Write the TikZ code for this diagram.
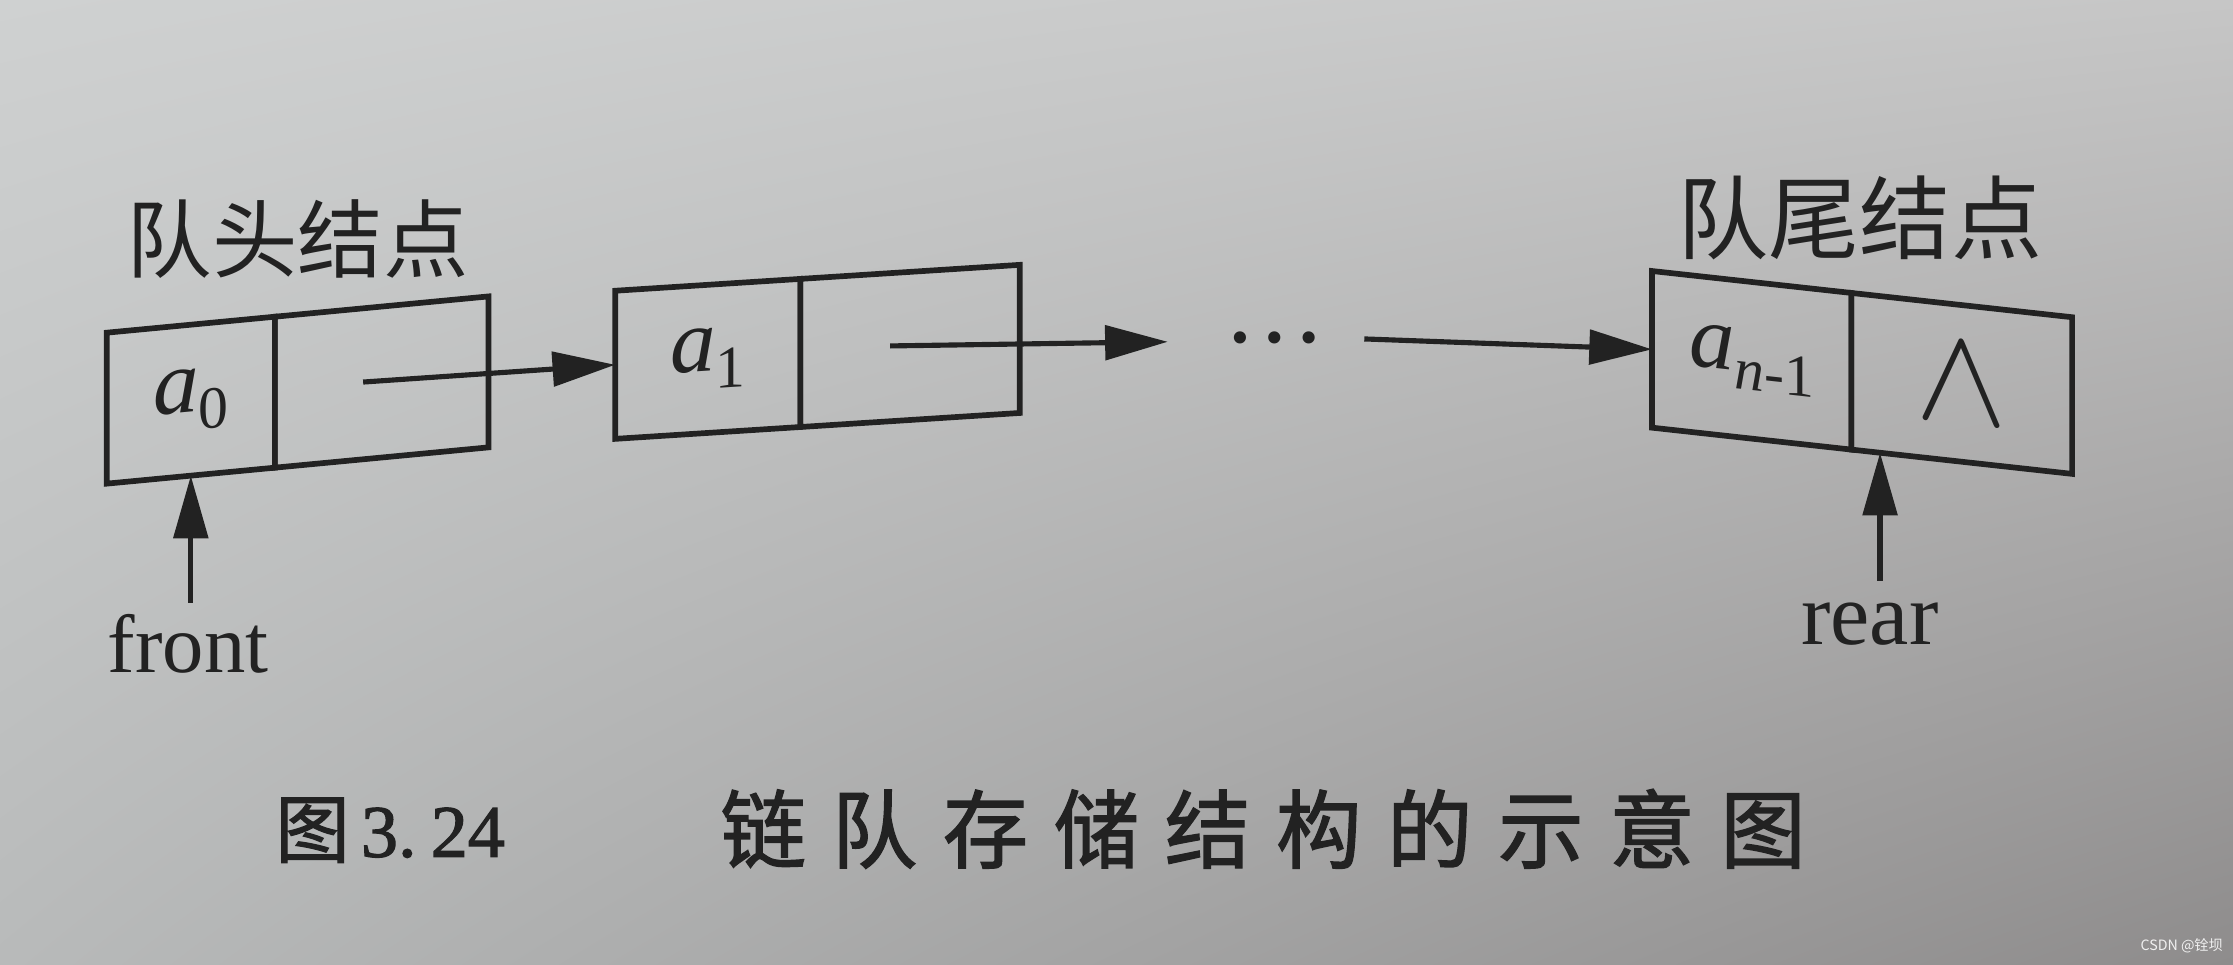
\documentclass[tikz,border=0pt]{standalone}
\usepackage{fontspec}
\setmainfont{Liberation Serif}
\newfontfamily\cjk{Noto Sans CJK SC}
\newfontfamily\cjkcap[FakeBold=1.6]{Noto Sans CJK SC}
\newfontfamily\numcap[FakeBold=1.6]{Liberation Serif}
\usetikzlibrary{arrows.meta,calc,shadings}
\definecolor{ink}{HTML}{222222}
\definecolor{bgul}{HTML}{CFD1D1}
\definecolor{bgur}{HTML}{C6C6C6}
\definecolor{bgll}{HTML}{B8BABA}
\definecolor{bglr}{HTML}{8E8C8C}
\newcommand\mysub[1]{\raisebox{-0.2em}{\fontsize{42}{42}\selectfont #1}}
\begin{document}
\begin{tikzpicture}[x=1pt,y=-1pt,
  cell/.style={draw=ink, line width=4pt, inner sep=0pt, outer sep=0pt, text=ink,
    font=\fontsize{64}{64}\selectfont},
  link/.style={draw=ink, line width=3.6pt, -{Triangle[length=44pt,width=24pt]}},
  lab/.style={text=ink, inner sep=0pt}]
\useasboundingbox (0,0) rectangle (1568,677);
\shade[upper left=bgul, upper right=bgur, lower left=bgll, lower right=bglr] (0,0) rectangle (1568,677);

% head node
\node[cell, minimum width=118pt, minimum height=106pt, yslant=0.095] (n0d) at (134,281) {\textit{a}\mysub{0}};
\node[cell, minimum width=150pt, minimum height=106pt, yslant=0.095, anchor=west] (n0p) at (n0d.east) {};
% second node
\node[cell, minimum width=130pt, minimum height=104pt, yslant=0.064] (n1d) at (497,252) {\textit{a}\mysub{1}};
\node[cell, minimum width=154pt, minimum height=104pt, yslant=0.064, anchor=west] (n1p) at (n1d.east) {};
% tail node
\node[cell, minimum width=140pt, minimum height=110pt, yslant=-0.11] (n3d) at (1230,253) {\textit{a}\mysub{\textit{n}-1}};
\node[cell, minimum width=155pt, minimum height=110pt, yslant=-0.11, anchor=west] (n3p) at (n3d.east)
  {\fontsize{24}{24}\selectfont\scalebox{3.9}{$\wedge$}};

% labels above
\node[lab, font={\cjk\fontsize{60}{60}\selectfont}] (hlab) at (209,168) {队头结点};
\node[lab, font={\cjk\fontsize{64}{64}\selectfont}] (tlab) at (1306,153) {队尾结点};

% links
\draw[link] ($(n0p.center)+(-13,0)$) -- (n1d.west);
\coordinate (e1) at (820,240);
\draw[link] ($(n1p.center)+(-14,0)$) -- (e1);
\node[lab, font=\fontsize{72}{72}\selectfont] (dots) at (895,237) {…};
\coordinate (s3) at (958,238);
\draw[link] (s3) -- (n3d.west);

% front / rear
\node[lab, font=\fontsize{58}{58}\selectfont] (front) at (132,452) {front};
\draw[link] ($(n0d.south |- front.north)+(0,-8)$) -- (n0d.south);
\node[lab, font=\fontsize{62}{62}\selectfont] (rear) at (1313,438) {rear};
\coordinate (rtip) at ($(n3p.south west)!0.13!(n3p.south east)$);
\draw[link] ($(rtip |- rear.north)+(0,-15)$) -- (rtip);

% caption
\node[lab] (capnum) at (274,583)
  {{\cjkcap\fontsize{52}{52}\selectfont 图}\hspace{8pt}{\numcap\fontsize{52}{52}\selectfont 3.\hspace{10pt}24}};
\node[lab, font={\cjkcap\fontsize{60}{60}\selectfont}] (captxt) at (887,582)
  {链\kern18pt队\kern18pt存\kern18pt储\kern18pt结\kern18pt构\kern18pt的\kern18pt示\kern18pt意\kern18pt图};

% watermark
\node[inner sep=0pt, text=white!88!gray, font={\cjk\fontsize{10}{10}\selectfont}] (wm) at (1532,664) {CSDN @铨坝};
\end{tikzpicture}
\end{document}
